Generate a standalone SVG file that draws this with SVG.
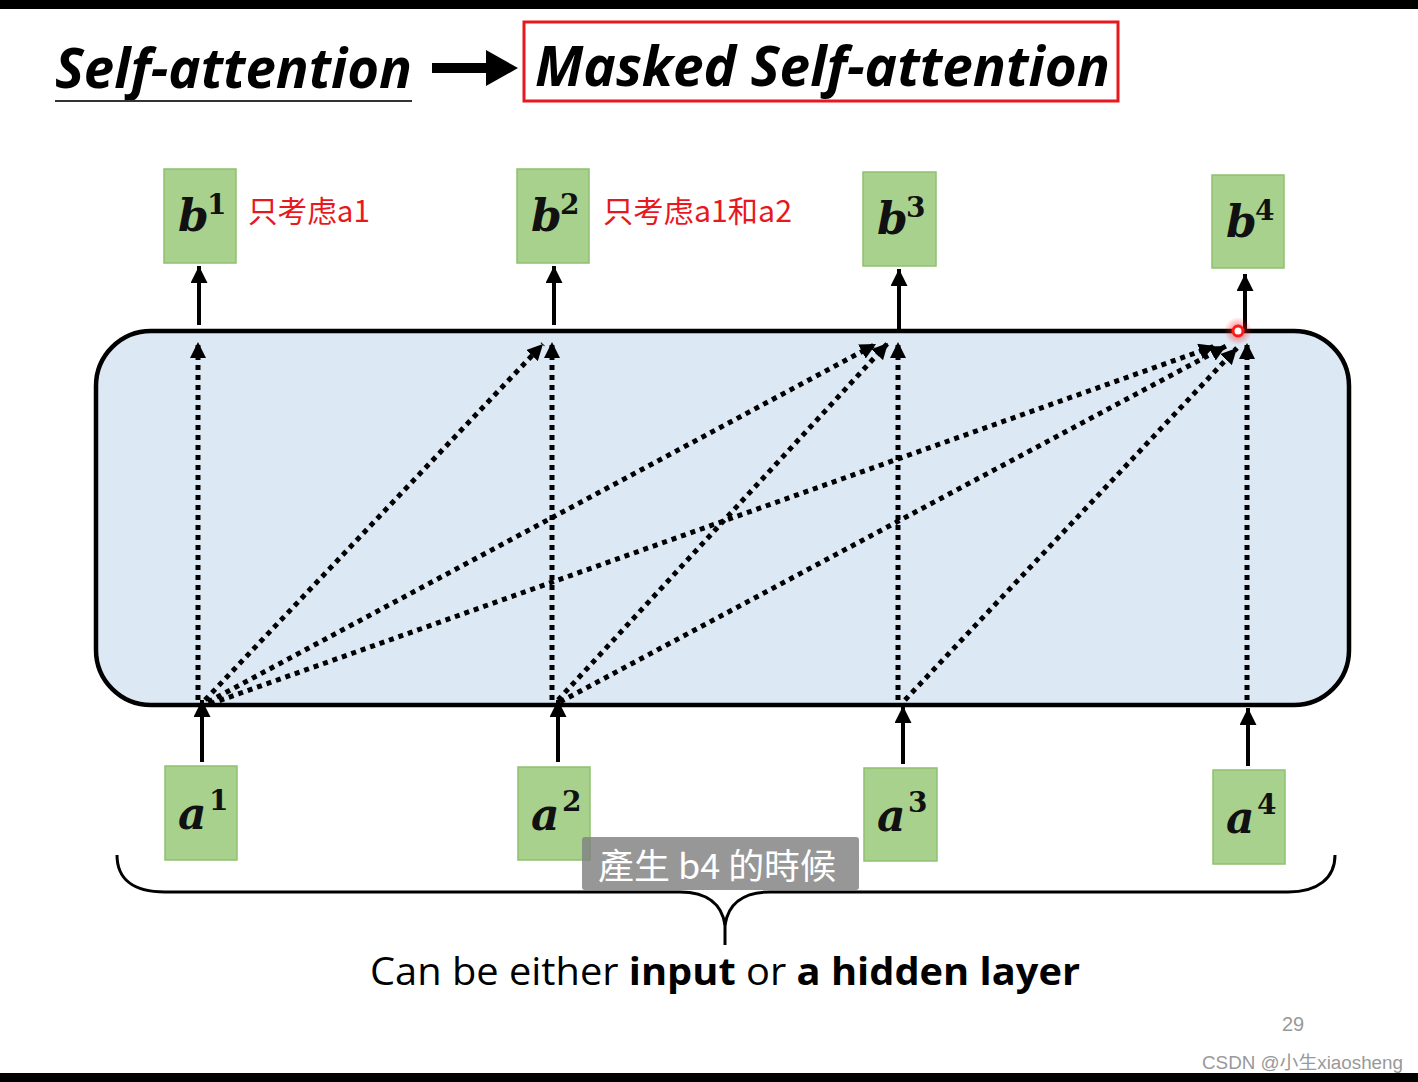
<svg xmlns="http://www.w3.org/2000/svg" width="1418" height="1082" viewBox="0 0 1418 1082">
<style>
.box{fill:#a9d18e;stroke:#8fc070;stroke-width:1.5}
.lbl{font-family:"DejaVu Serif",serif;font-weight:bold;font-style:italic;font-size:44px;fill:#111}
.sup{font-family:"DejaVu Serif",serif;font-weight:bold;font-size:28px;fill:#111}
.dot{fill:none;stroke:#000;stroke-width:5;stroke-dasharray:5 5}
.solid{fill:none;stroke:#000;stroke-width:4}
.red{font-family:"Noto Sans CJK SC","Noto Sans",sans-serif;font-size:30px;fill:#e8191e}
.title{font-family:"Open Sans","Liberation Sans",sans-serif;font-weight:bold;font-style:italic;font-size:56px;fill:#000}
</style>
<defs>
<marker id="ah" viewBox="0 0 10 10" refX="10" refY="5" markerWidth="16" markerHeight="16" markerUnits="userSpaceOnUse" orient="auto"><path d="M0,0 L10,5 L0,10 z" fill="#000"/></marker>
<marker id="as" viewBox="0 0 10 10" refX="10" refY="5" markerWidth="17" markerHeight="17" markerUnits="userSpaceOnUse" orient="auto"><path d="M0,0 L10,5 L0,10 z" fill="#000"/></marker>
<radialGradient id="glow"><stop offset="0" stop-color="#ff2020" stop-opacity="0.7"/><stop offset="1" stop-color="#ff2020" stop-opacity="0"/></radialGradient>
</defs>
<rect x="0" y="0" width="1418" height="1082" fill="#fff"/>
<rect x="0" y="0" width="1418" height="9" fill="#000"/>
<rect x="0" y="1073" width="1418" height="9" fill="#000"/>

<g id="title">
<text class="title" x="55" y="88" textLength="357" lengthAdjust="spacingAndGlyphs">Self-attention</text>
<line x1="55" y1="101" x2="412" y2="101" stroke="#333" stroke-width="2"/>
<line x1="432" y1="68" x2="492" y2="68" stroke="#000" stroke-width="10"/>
<path d="M486,50 L518,68 L486,86 z" fill="#000"/>
<rect x="524" y="22" width="594" height="79" fill="none" stroke="#e8191e" stroke-width="3"/>
<text class="title" x="535" y="86" textLength="575" lengthAdjust="spacingAndGlyphs">Masked Self-attention</text>
</g>

<g id="layer">
<rect x="96" y="331" width="1253" height="374" rx="55" ry="55" fill="#dce8f4" stroke="#000" stroke-width="4.5"/>
</g>

<g id="connectors">
<line class="solid" x1="199" y1="325" x2="199" y2="266" marker-end="url(#as)"/>
<line class="solid" x1="554" y1="325" x2="554" y2="266" marker-end="url(#as)"/>
<line class="solid" x1="899" y1="329" x2="899" y2="269" marker-end="url(#as)"/>
<line class="solid" x1="1245" y1="329" x2="1245" y2="274" marker-end="url(#as)"/>
<line class="solid" x1="202" y1="762" x2="202" y2="700" marker-end="url(#as)"/>
<line class="solid" x1="558" y1="762" x2="558" y2="700" marker-end="url(#as)"/>
<line class="solid" x1="903" y1="764" x2="903" y2="706" marker-end="url(#as)"/>
<line class="solid" x1="1248" y1="766" x2="1248" y2="708" marker-end="url(#as)"/>

<line class="dot" x1="198" y1="700" x2="198" y2="342" marker-end="url(#ah)"/>
<line class="dot" x1="205" y1="700" x2="543" y2="344" marker-end="url(#ah)"/>
<line class="dot" x1="208" y1="702" x2="876" y2="344" marker-end="url(#ah)"/>
<line class="dot" x1="210" y1="704" x2="1215" y2="346" marker-end="url(#ah)"/>
<line class="dot" x1="552" y1="700" x2="552" y2="342" marker-end="url(#ah)"/>
<line class="dot" x1="558" y1="700" x2="888" y2="343" marker-end="url(#ah)"/>
<line class="dot" x1="560" y1="702" x2="1226" y2="346" marker-end="url(#ah)"/>
<line class="dot" x1="898" y1="700" x2="898" y2="342" marker-end="url(#ah)"/>
<line class="dot" x1="905" y1="700" x2="1237" y2="348" marker-end="url(#ah)"/>
<line class="dot" x1="1247" y1="700" x2="1247" y2="343" marker-end="url(#ah)"/>
</g>

<g id="b1"><rect class="box" x="164" y="169" width="72" height="94"/><text class="lbl" x="178" y="231">b</text><text class="sup" x="207" y="214">1</text></g>
<g id="b2"><rect class="box" x="517" y="169" width="72" height="94"/><text class="lbl" x="531" y="231">b</text><text class="sup" x="560" y="214">2</text></g>
<g id="b3"><rect class="box" x="863" y="172" width="73" height="94"/><text class="lbl" x="877" y="234">b</text><text class="sup" x="906" y="217">3</text></g>
<g id="b4"><rect class="box" x="1212" y="175" width="72" height="93"/><text class="lbl" x="1226" y="237">b</text><text class="sup" x="1255" y="220">4</text></g>

<g id="a1"><rect class="box" x="165" y="766" width="72" height="94"/><text class="lbl" x="178" y="829">a</text><text class="sup" x="209" y="810">1</text></g>
<g id="a2"><rect class="box" x="518" y="767" width="72" height="93"/><text class="lbl" x="531" y="830">a</text><text class="sup" x="562" y="811">2</text></g>
<g id="a3"><rect class="box" x="864" y="768" width="73" height="93"/><text class="lbl" x="877" y="831">a</text><text class="sup" x="908" y="812">3</text></g>
<g id="a4"><rect class="box" x="1213" y="770" width="72" height="94"/><text class="lbl" x="1226" y="833">a</text><text class="sup" x="1257" y="814">4</text></g>

<g id="notes">
<text class="red" x="248" y="222" textLength="122" lengthAdjust="spacingAndGlyphs">只考虑a1</text>
<text class="red" x="603" y="222" textLength="189" lengthAdjust="spacingAndGlyphs">只考虑a1和a2</text>
</g>

<g id="cursor">
<circle cx="1238" cy="331" r="14" fill="url(#glow)"/>
<circle cx="1238" cy="331" r="5" fill="#fff" stroke="#ff1a1a" stroke-width="3"/>
</g>

<g id="brace">
<path d="M117,855 C117,878 132,892 165,892 L680,892 C708,892 722,905 725,925 C728,905 742,892 770,892 L1288,892 C1318,892 1335,878 1335,855" fill="none" stroke="#000" stroke-width="3"/>
<line x1="725" y1="922" x2="725" y2="945" stroke="#000" stroke-width="3"/>
</g>

<g id="caption">
<text x="725" y="985" text-anchor="middle" font-family="Open Sans,Liberation Sans,sans-serif" font-size="38" fill="#000" textLength="710" lengthAdjust="spacingAndGlyphs">Can be either <tspan font-weight="bold">input</tspan> or <tspan font-weight="bold">a hidden layer</tspan></text>
</g>

<g id="subtitle">
<rect x="582" y="837" width="277" height="53" rx="3" fill="#808080" fill-opacity="0.82"/>
<text x="598" y="879" font-family="Noto Sans CJK TC,Noto Sans,sans-serif" font-size="35" fill="#fff" textLength="238" lengthAdjust="spacingAndGlyphs">產生 b4 的時候</text>
</g>

<g id="footer">
<text x="1282" y="1031" font-family="Liberation Sans,sans-serif" font-size="20" fill="#999">29</text>
<text x="1202" y="1069" font-family="Liberation Sans,Noto Sans CJK SC,sans-serif" font-size="18" fill="#999" textLength="201" lengthAdjust="spacingAndGlyphs">CSDN @小生xiaosheng</text>
</g>
</svg>
